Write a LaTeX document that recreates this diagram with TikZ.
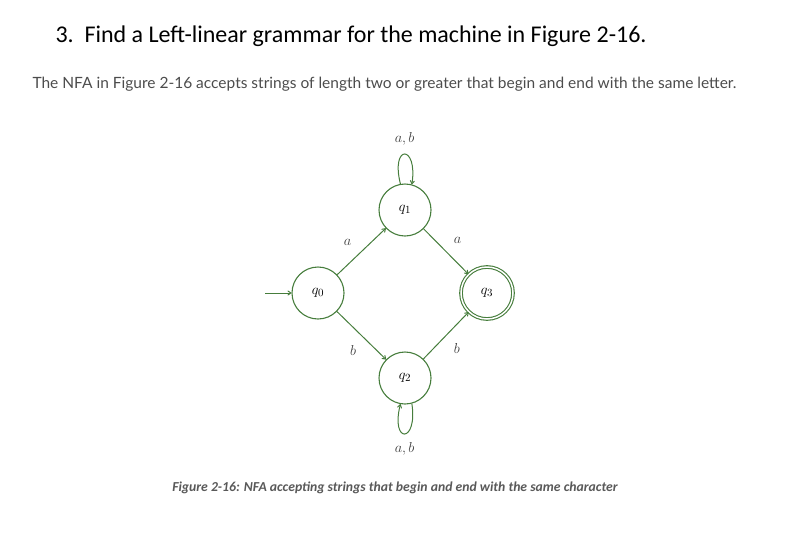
\documentclass[tikz,border=0pt]{standalone}
\usepackage{fontspec}
\setmainfont{Latin Modern Roman}
\newfontfamily\calfont{Carlito}
\newfontfamily\latfont{Lato}
\usetikzlibrary{arrows.meta}
\definecolor{sg}{RGB}{70,125,60}
\tikzset{
  st/.style={circle,draw=sg,line width=1.1pt,minimum size=52pt,inner sep=0pt,font=\fontsize{15}{15}\selectfont},
  acc/.style={st,double=white,double distance=1.5pt},
  tr/.style={draw=sg,line width=1pt,-{To[length=4pt,width=5pt]}},
  lb/.style={font=\fontsize{15}{15}\selectfont,text=black!75}
}
\begin{document}
\begin{tikzpicture}[x=1pt,y=-1pt]
\useasboundingbox (0,0) rectangle (791,533);
\node[anchor=west,font=\calfont\fontsize{24}{24}\selectfont] (t) at (52,36) {3.\ \ Find a Left-linear grammar for the machine in Figure 2-16.};
\node[anchor=west,font=\latfont\fontsize{15.5}{15.5}\selectfont,text=black!70] (s) at (29,84) {The NFA in Figure 2-16 accepts strings of length two or greater that begin and end with the same letter.};
\node[st] (q1) at (405,210) {$q_1$};
\node[st] (q0) at (318,293) {$q_0$};
\node[acc] (q3) at (487,293) {$q_3$};
\node[st] (q2) at (405,378) {$q_2$};
\coordinate (in) at (265,293);
\draw[tr] (in) -- (q0);
\draw[tr] (q0) -- node[lb,pos=0.45,above left=4pt] {$a$} (q1);
\draw[tr] (q1) -- node[lb,pos=0.5,above right=4pt] {$a$} (q3);
\draw[tr] (q0) -- node[lb,pos=0.55,below left=4pt] {$b$} (q2);
\draw[tr] (q2) -- node[lb,pos=0.5,below right=4pt] {$b$} (q3);
\draw[tr] (q1.100) .. controls +(-10,-40) and +(6,-40) .. node[lb,above=5pt] {$a,b$} (q1.75);
\draw[tr] (q2.-75) .. controls +(6,40) and +(-10,40) .. node[lb,below=5pt] {$a,b$} (q2.-100);
\node[font=\calfont\bfseries\itshape\fontsize{13.7}{13.7}\selectfont,text=black!65] (c) at (395,488) {Figure 2-16: NFA accepting strings that begin and end with the same character};
\end{tikzpicture}
\end{document}
